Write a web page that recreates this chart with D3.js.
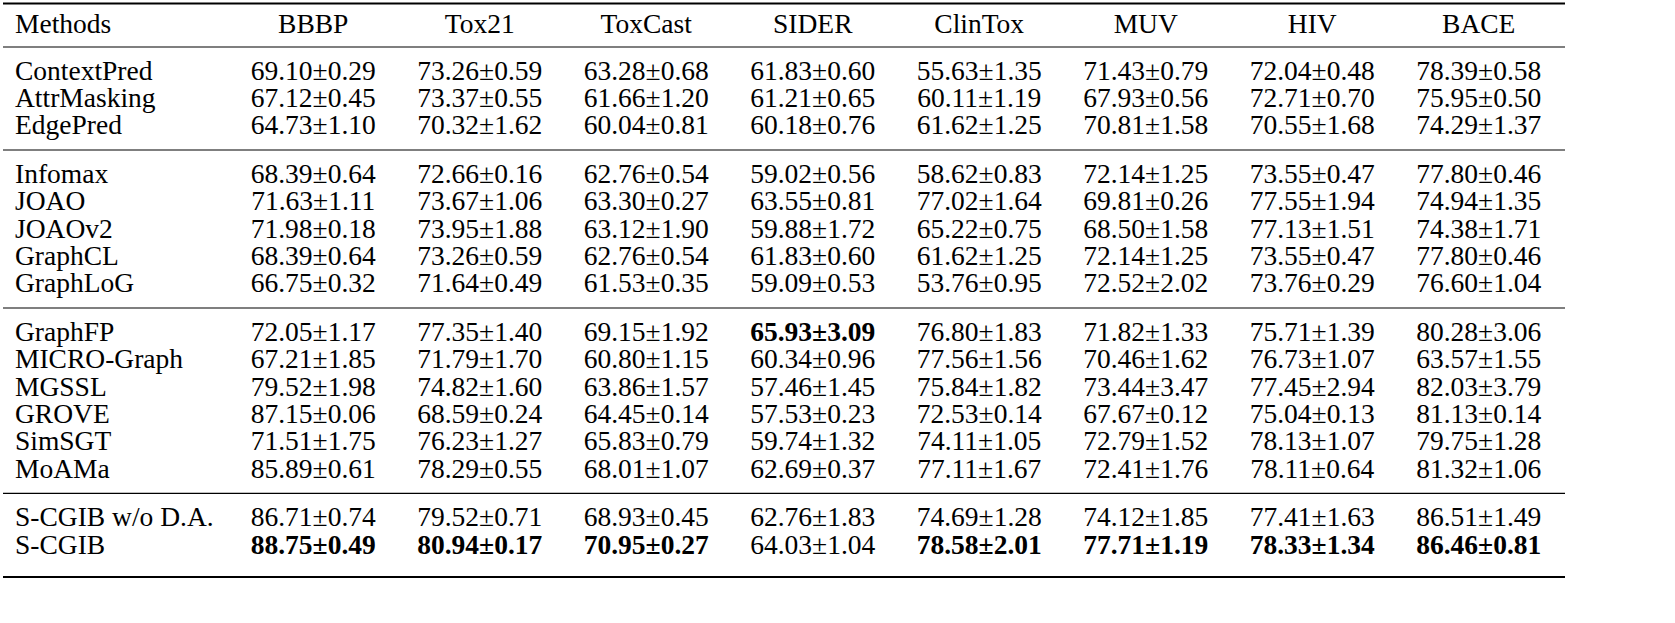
<!DOCTYPE html>
<html><head><meta charset="utf-8">
<script src="https://cdn.jsdelivr.net/npm/d3@7"></script>
<style>body{margin:0;background:#fff}</style>
</head><body>
<script>
var datasets = ["BBBP", "Tox21", "ToxCast", "SIDER", "ClinTox", "MUV", "HIV", "BACE"];
var methods = ["ContextPred", "AttrMasking", "EdgePred",
  "Infomax", "JOAO", "JOAOv2", "GraphCL", "GraphLoG",
  "GraphFP", "MICRO-Graph", "MGSSL", "GROVE", "SimSGT", "MoAMa",
  "S-CGIB w/o D.A.", "S-CGIB"];
var groupOf = [0,0,0, 1,1,1,1,1, 2,2,2,2,2,2, 3,3];
var means = [
  [69.10,73.26,63.28,61.83,55.63,71.43,72.04,78.39],
  [67.12,73.37,61.66,61.21,60.11,67.93,72.71,75.95],
  [64.73,70.32,60.04,60.18,61.62,70.81,70.55,74.29],
  [68.39,72.66,62.76,59.02,58.62,72.14,73.55,77.80],
  [71.63,73.67,63.30,63.55,77.02,69.81,77.55,74.94],
  [71.98,73.95,63.12,59.88,65.22,68.50,77.13,74.38],
  [68.39,73.26,62.76,61.83,61.62,72.14,73.55,77.80],
  [66.75,71.64,61.53,59.09,53.76,72.52,73.76,76.60],
  [72.05,77.35,69.15,65.93,76.80,71.82,75.71,80.28],
  [67.21,71.79,60.80,60.34,77.56,70.46,76.73,63.57],
  [79.52,74.82,63.86,57.46,75.84,73.44,77.45,82.03],
  [87.15,68.59,64.45,57.53,72.53,67.67,75.04,81.13],
  [71.51,76.23,65.83,59.74,74.11,72.79,78.13,79.75],
  [85.89,78.29,68.01,62.69,77.11,72.41,78.11,81.32],
  [86.71,79.52,68.93,62.76,74.69,74.12,77.41,86.51],
  [88.75,80.94,70.95,64.03,78.58,77.71,78.33,86.46]
];
var stds = [
  [0.29,0.59,0.68,0.60,1.35,0.79,0.48,0.58],
  [0.45,0.55,1.20,0.65,1.19,0.56,0.70,0.50],
  [1.10,1.62,0.81,0.76,1.25,1.58,1.68,1.37],
  [0.64,0.16,0.54,0.56,0.83,1.25,0.47,0.46],
  [1.11,1.06,0.27,0.81,1.64,0.26,1.94,1.35],
  [0.18,1.88,1.90,1.72,0.75,1.58,1.51,1.71],
  [0.64,0.59,0.54,0.60,1.25,1.25,0.47,0.46],
  [0.32,0.49,0.35,0.53,0.95,2.02,0.29,1.04],
  [1.17,1.40,1.92,3.09,1.83,1.33,1.39,3.06],
  [1.85,1.70,1.15,0.96,1.56,1.62,1.07,1.55],
  [1.98,1.60,1.57,1.45,1.82,3.47,2.94,3.79],
  [0.06,0.24,0.14,0.23,0.14,0.12,0.13,0.14],
  [1.75,1.27,0.79,1.32,1.05,1.52,1.07,1.28],
  [0.61,0.55,1.07,0.37,1.67,1.76,0.64,1.06],
  [0.74,0.71,0.45,1.83,1.28,1.85,1.63,1.49],
  [0.49,0.17,0.27,1.04,2.01,1.19,1.34,0.81]
];
// bold = best per column (row index per dataset)
var boldRow = [15,15,15,8,15,15,15,15];

var W = 1675, H = 623, left = 3, right = 1565;
var svg = d3.select("body").append("svg").attr("width", W).attr("height", H)
  .style("font-family", "'Liberation Serif', 'Times New Roman', serif")
  .style("font-size", "27.5px");

var x = d3.scaleBand().domain(datasets).range([230, 1562]);
var rowH = 27.4, y0 = 70;
var y = d3.scaleLinear().domain([0, 1]).range([0, rowH]);
function yPos(i) { return y0 + y(i) + groupOf[i] * 21; }

var line = function (yy, w) {
  svg.append("line").attr("x1", left).attr("x2", right).attr("y1", yy).attr("y2", yy)
    .attr("stroke", "#000").attr("stroke-width", w);
};
line(3.5, 2.2);
line(47, 1.2);
[2, 7, 13].forEach(function (i) { line((yPos(i) + yPos(i + 1)) / 2 + 1, 1.2); });
line(yPos(15) + 33, 2.2);

var header = svg.append("g").attr("transform", "translate(0,23)");
header.append("text").attr("x", 15).attr("dy", "0.35em").text("Methods");
header.selectAll("text.ds").data(datasets).enter().append("text")
  .attr("class", "ds").attr("x", function (d) { return x(d) + x.bandwidth() / 2; })
  .attr("dy", "0.35em").attr("text-anchor", "middle").text(function (d) { return d; });

var rows = svg.selectAll("g.row").data(methods).enter().append("g")
  .attr("transform", function (d, i) { return "translate(0," + yPos(i) + ")"; });
rows.append("text").attr("x", 15).attr("dy", "0.35em").text(function (d) { return d; });
rows.each(function (m, i) {
  d3.select(this).selectAll("text.v").data(datasets).enter().append("text")
    .attr("class", "v").attr("x", function (d) { return x(d) + x.bandwidth() / 2; })
    .attr("dy", "0.35em").attr("text-anchor", "middle")
    .style("font-weight", function (d, j) { return boldRow[j] === i ? "bold" : "normal"; })
    .text(function (d, j) { return means[i][j].toFixed(2) + "\u00b1" + stds[i][j].toFixed(2); });
});
</script>
</body></html>
